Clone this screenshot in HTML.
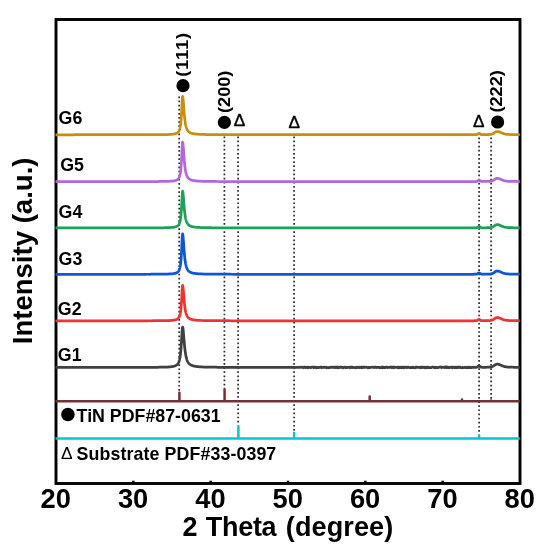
<!DOCTYPE html>
<html lang="en"><head><meta charset="utf-8"><title>XRD patterns</title>
<style>html,body{margin:0;padding:0;background:#fff}body{width:546px;height:550px;overflow:hidden}</style></head>
<body>
<svg width="546" height="550" viewBox="0 0 546 550" style="display:block">
<rect x="0" y="0" width="546" height="550" fill="#ffffff"/>
<g stroke="#2a2a2a" stroke-width="1.7" stroke-dasharray="1.7 2.42" fill="none">
<line x1="179.2" y1="96.5" x2="179.2" y2="392"/>
<line x1="224.4" y1="136.5" x2="224.4" y2="389"/>
<line x1="238.1" y1="136.5" x2="238.1" y2="425.5"/>
<line x1="294.1" y1="136.5" x2="294.1" y2="432"/>
<line x1="479.1" y1="137.5" x2="479.1" y2="434.5"/>
<line x1="491.1" y1="137.5" x2="491.1" y2="400"/>
</g>
<rect x="56" y="19.5" width="464" height="464" fill="none" stroke="#000" stroke-width="2.9"/>
<line x1="133.33" y1="480.7" x2="133.33" y2="483" stroke="#000" stroke-width="2.4"/>
<line x1="210.67" y1="480.7" x2="210.67" y2="483" stroke="#000" stroke-width="2.4"/>
<line x1="288.00" y1="480.7" x2="288.00" y2="483" stroke="#000" stroke-width="2.4"/>
<line x1="365.33" y1="480.7" x2="365.33" y2="483" stroke="#000" stroke-width="2.4"/>
<line x1="442.67" y1="480.7" x2="442.67" y2="483" stroke="#000" stroke-width="2.4"/>
<path d="M55.5,401.3 L179.4,401.3 L179.4,392.8 L179.4,401.3 L224.6,401.3 L224.6,389.8 L224.6,401.3 L369.7,401.3 L369.7,396.5 L369.7,401.3 L462,401.3 L462,399.5 L462,401.3 L491.1,401.3 L491.1,400.40000000000003 L491.1,401.3 L519.8,401.3" fill="none" stroke="#733035" stroke-width="2.5" stroke-linejoin="round" stroke-linecap="butt"/>
<path d="M55.5,438.6 L238.4,438.6 L238.4,426.6 L238.4,438.6 L294.1,438.6 L294.1,433.1 L294.1,438.6 L479.1,438.6 L479.1,435.6 L479.1,438.6 L519.8,438.6" fill="none" stroke="#05C6CC" stroke-width="2.5" stroke-linejoin="round" stroke-linecap="butt"/>
<polyline points="55.5,367.39 57.5,367.39 59.5,367.39 61.5,367.39 63.5,367.39 65.5,367.39 67.5,367.39 69.5,367.39 71.5,367.39 73.5,367.39 75.5,367.39 77.5,367.39 79.5,367.39 81.5,367.39 83.5,367.39 85.5,367.39 87.5,367.39 89.5,367.39 91.5,367.39 93.5,367.39 95.5,367.39 97.5,367.39 99.5,367.39 101.5,367.39 103.5,367.39 105.5,367.38 107.5,367.38 109.5,367.38 111.5,367.38 113.5,367.38 115.5,367.38 117.5,367.38 119.5,367.38 121.5,367.38 123.5,367.37 125.5,367.37 127.5,367.37 129.5,367.37 131.5,367.37 133.5,367.36 135.5,367.36 137.5,367.36 139.5,367.35 141.5,367.35 143.5,367.34 145.5,367.33 147.5,367.33 149.5,367.32 151.5,367.31 153.5,367.29 155.5,367.28 157.5,367.26 159.5,367.23 161.5,367.20 163.5,367.15 165.5,367.09 167.5,367.01 169.5,366.88 170.0,366.84 170.2,366.82 170.4,366.80 170.6,366.78 170.8,366.76 171.0,366.74 171.2,366.71 171.4,366.69 171.6,366.66 171.8,366.64 172.0,366.61 172.2,366.58 172.4,366.55 172.6,366.51 172.8,366.48 173.0,366.44 173.2,366.40 173.4,366.36 173.6,366.31 173.8,366.26 174.0,366.21 174.2,366.15 174.4,366.09 174.6,366.03 174.8,365.96 175.0,365.89 175.2,365.81 175.4,365.72 175.6,365.63 175.8,365.53 176.0,365.42 176.2,365.30 176.4,365.17 176.6,365.03 176.8,364.87 177.0,364.70 177.2,364.51 177.4,364.30 177.6,364.07 177.8,363.81 178.0,363.53 178.2,363.20 178.4,362.84 178.6,362.43 178.8,361.97 179.0,361.44 179.2,360.83 179.4,360.14 179.6,359.34 179.8,358.41 180.0,357.34 180.2,356.08 180.4,354.61 180.6,352.89 180.8,350.88 181.0,348.55 181.2,345.86 181.4,342.83 181.6,339.50 181.8,336.02 182.0,332.66 182.2,329.78 182.4,327.80 182.6,327.10 182.8,327.46 183.0,328.51 183.2,330.14 183.4,332.21 183.6,334.55 183.8,337.02 184.0,339.50 184.2,341.90 184.4,344.17 184.6,346.27 184.8,348.19 185.0,349.92 185.2,351.49 185.4,352.89 185.6,354.15 185.8,355.27 186.0,356.27 186.2,357.17 186.4,357.97 186.6,358.69 186.8,359.34 187.0,359.92 187.2,360.45 187.4,360.93 187.6,361.36 187.8,361.75 188.0,362.11 188.2,362.43 188.4,362.73 188.6,363.00 188.8,363.25 189.0,363.48 189.2,363.69 189.4,363.89 189.6,364.07 189.8,364.24 190.0,364.40 190.2,364.54 190.4,364.68 190.6,364.80 190.8,364.92 191.0,365.03 191.2,365.13 191.4,365.23 191.6,365.32 191.8,365.40 192.0,365.48 192.2,365.56 192.4,365.63 192.6,365.70 192.8,365.76 193.0,365.82 193.2,365.88 193.4,365.93 193.6,365.98 193.8,366.03 194.0,366.08 194.2,366.12 194.4,366.16 194.6,366.20 194.8,366.24 195.0,366.28 195.2,366.31 195.4,366.34 195.6,366.37 195.8,366.40 196.0,366.43 196.2,366.46 196.4,366.49 196.6,366.51 196.8,366.54 197.0,366.56 197.2,366.58 197.4,366.60 197.6,366.62 197.8,366.64 198.0,366.66 198.2,366.68 198.4,366.70 198.6,366.72 198.8,366.73 199.0,366.75 199.2,366.76 199.4,366.78 199.6,366.79 199.8,366.81 200.0,366.82 202.0,366.93 204.0,367.02 206.0,367.08 208.0,367.13 210.0,367.16 212.0,367.19 214.0,367.22 216.0,367.24 218.0,367.26 220.0,367.27 222.0,367.29 224.0,367.30 226.0,367.31 228.0,367.31 230.0,367.32 232.0,367.33 234.0,367.33 236.0,367.34 238.0,367.34 240.0,367.35 242.0,367.35 244.0,367.35 246.0,367.36 248.0,367.36 250.0,367.36 252.0,367.36 254.0,367.36 256.0,367.37 258.0,367.37 260.0,367.37 262.0,367.37 264.0,367.37 266.0,367.37 268.0,367.37 270.0,367.38 272.0,367.38 274.0,367.38 276.0,367.38 278.0,367.38 280.0,367.38 282.0,367.38 284.0,367.38 286.0,367.38 288.0,367.38 290.0,367.38 292.0,367.38 294.0,367.38 296.0,367.39 298.0,367.39 300.0,367.39 300.6,367.09 301.2,367.25 301.8,367.43 302.0,367.25 302.4,367.42 303.0,367.16 303.6,367.70 304.0,367.38 304.2,367.09 304.8,367.05 305.4,367.61 306.0,367.59 306.6,367.06 307.2,367.51 307.8,367.74 308.0,367.22 308.4,367.46 309.0,367.20 309.6,367.41 310.0,367.39 310.2,367.45 310.8,367.56 311.4,367.07 312.0,367.25 312.6,367.16 313.2,367.07 313.8,367.59 314.0,367.05 314.4,367.10 315.0,367.38 315.6,367.33 316.0,367.70 316.2,367.18 316.8,367.65 317.4,367.36 318.0,367.69 318.6,367.73 319.2,367.30 319.8,367.40 320.0,367.25 320.4,367.16 321.0,367.00 321.6,367.72 322.0,367.28 322.2,367.33 322.8,367.27 323.4,367.36 324.0,367.34 324.6,367.10 325.2,367.43 325.8,367.36 326.0,367.24 326.4,367.72 327.0,367.44 327.6,367.71 328.0,367.68 328.2,367.79 328.8,367.62 329.4,367.62 330.0,367.38 330.6,367.33 331.2,367.13 331.8,367.40 332.0,367.08 332.4,367.47 333.0,367.20 333.6,367.35 334.0,367.29 334.2,367.57 334.8,367.04 335.4,367.18 336.0,367.67 336.6,367.36 337.2,366.99 337.8,367.75 338.0,367.55 338.4,367.20 339.0,367.76 339.6,367.19 340.0,367.33 340.2,367.21 340.8,367.35 341.4,367.04 342.0,367.51 342.6,367.33 343.2,367.75 343.8,367.35 344.0,367.46 344.4,367.01 345.0,367.04 345.6,367.68 346.0,367.76 346.2,367.70 346.8,367.64 347.4,367.21 348.0,367.36 348.6,367.36 349.2,367.42 349.8,367.79 350.0,367.48 350.4,366.99 351.0,367.14 351.6,367.33 352.0,367.63 352.2,367.06 352.8,367.45 353.4,367.30 354.0,367.63 354.6,367.53 355.2,367.52 355.8,367.48 356.0,367.77 356.4,367.26 357.0,367.66 357.6,367.31 358.0,367.30 358.2,367.23 358.8,367.56 359.4,367.56 360.0,367.19 360.6,367.48 361.2,367.67 361.8,367.07 362.0,367.78 362.4,367.08 363.0,367.56 363.6,367.49 364.0,367.01 364.2,367.44 364.8,367.22 365.4,367.46 366.0,367.06 366.6,367.22 367.2,367.41 367.8,367.73 368.0,367.50 368.4,367.40 369.0,367.57 369.6,367.36 370.0,367.62 370.2,367.40 370.8,367.37 371.4,367.25 372.0,367.20 372.6,367.21 373.2,367.45 373.8,367.43 374.0,367.09 374.4,367.50 375.0,367.20 375.6,367.00 376.0,367.05 376.2,367.35 376.8,367.55 377.4,367.29 378.0,367.25 378.6,367.37 379.2,367.52 379.8,367.43 380.0,367.73 380.4,367.56 381.0,367.68 381.6,367.26 382.0,367.03 382.2,367.67 382.8,367.77 383.4,367.20 384.0,367.51 384.6,367.39 385.2,367.74 385.8,367.65 386.0,367.24 386.4,367.31 387.0,367.11 387.6,367.02 388.0,367.50 388.2,367.30 388.8,367.43 389.4,367.39 390.0,367.48 390.6,367.01 391.2,367.29 391.8,367.68 392.0,367.23 392.4,367.02 393.0,367.08 393.6,367.35 394.0,367.78 394.2,367.15 394.8,367.05 395.4,367.21 396.0,367.45 396.6,367.49 397.2,367.20 397.8,367.71 398.0,367.16 398.4,367.39 399.0,367.74 399.6,367.13 400.0,367.48 400.2,367.71 400.8,367.65 401.4,367.10 402.0,367.65 402.6,367.16 403.2,367.15 403.8,367.72 404.0,367.44 404.4,367.16 405.0,367.40 405.6,367.10 406.0,367.49 406.2,367.29 406.8,367.62 407.4,367.12 408.0,367.12 408.6,367.34 409.2,367.53 409.8,367.51 410.0,367.32 410.4,367.69 411.0,367.38 411.6,367.56 412.0,367.52 412.2,367.53 412.8,367.12 413.4,367.65 414.0,367.60 414.6,367.66 415.2,367.78 415.8,367.45 416.0,367.12 416.4,367.07 417.0,367.40 417.6,367.45 418.0,367.10 418.2,367.37 418.8,367.35 419.4,367.27 420.0,367.73 420.6,367.12 421.2,367.71 421.8,367.36 422.0,367.05 422.4,367.35 423.0,367.52 423.6,367.21 424.0,367.07 424.2,367.30 424.8,367.75 425.4,367.09 426.0,367.78 426.6,367.25 427.2,367.07 427.8,367.66 428.0,367.37 428.4,367.23 429.0,367.65 429.6,367.59 430.0,367.74 430.2,367.66 430.8,367.69 431.4,367.56 432.0,367.19 432.6,367.23 433.2,367.18 433.8,367.26 434.0,367.15 434.4,367.67 435.0,367.34 435.6,367.77 436.0,367.39 436.2,367.11 436.8,367.41 437.4,367.55 438.0,367.57 438.6,367.47 439.2,367.06 439.8,367.01 440.0,367.19 440.4,367.00 441.0,367.18 441.6,367.56 442.0,367.44 442.2,367.21 442.8,367.22 443.4,367.24 444.0,367.39 444.6,367.67 445.2,367.02 445.8,367.61 446.0,367.00 446.4,367.68 447.0,367.00 447.6,367.48 448.0,367.13 448.2,367.78 448.8,367.43 449.4,367.58 450.0,367.23 450.6,367.25 451.2,367.41 451.8,367.22 452.0,367.00 452.4,367.71 453.0,367.33 453.6,367.24 454.0,367.27 454.2,367.57 454.8,367.08 455.4,367.58 456.0,367.10 456.6,367.40 457.2,367.66 457.8,367.12 458.0,367.71 458.4,367.14 459.0,367.29 459.6,367.07 460.0,367.13 460.2,367.45 460.8,367.66 461.4,367.56 462.0,367.77 462.6,367.25 463.2,367.70 463.8,367.63 464.0,367.57 464.4,367.44 465.0,367.22 465.6,367.41 466.0,367.36 466.2,367.69 466.8,367.49 467.4,367.60 468.0,367.17 468.6,367.75 469.2,367.27 469.8,367.20 470.0,367.35 470.4,367.72 470.8,367.55 471.0,367.56 471.2,367.54 471.6,367.54 472.0,367.35 472.4,367.35 472.8,367.35 473.2,367.35 473.6,367.35 474.0,367.34 474.4,367.34 474.8,367.34 475.2,367.34 475.6,367.33 476.0,367.31 476.4,367.27 476.8,367.18 477.2,367.02 477.6,366.78 478.0,366.49 478.4,366.22 478.8,366.04 479.2,366.04 479.6,366.21 480.0,366.48 480.4,366.77 480.8,367.00 481.2,367.15 481.6,367.24 482.0,367.27 482.4,367.29 482.8,367.29 483.2,367.29 483.6,367.28 484.0,367.28 484.4,367.27 484.8,367.27 485.2,367.26 485.6,367.26 486.0,367.25 486.4,367.25 486.8,367.24 487.2,367.23 487.6,367.22 488.0,367.21 488.4,367.20 488.8,367.19 489.2,367.17 489.6,367.14 490.0,367.11 490.4,367.07 490.8,367.01 491.2,366.93 491.6,366.84 492.0,366.71 492.4,366.56 492.8,366.38 493.2,366.16 493.6,365.92 494.0,365.65 494.4,365.38 494.8,365.10 495.2,364.83 495.6,364.59 496.0,364.39 496.4,364.24 496.8,364.16 497.2,364.15 497.6,364.16 498.0,364.21 498.4,364.29 498.8,364.39 499.2,364.52 499.6,364.66 500.0,364.82 500.4,364.99 500.8,365.16 501.2,365.34 501.6,365.52 502.0,365.70 502.4,365.86 502.8,366.02 503.2,366.17 503.6,366.30 504.0,366.43 504.4,366.54 504.8,366.63 505.2,366.72 505.6,366.80 506.0,366.86 506.4,366.92 506.8,366.96 507.2,367.00 507.6,367.04 508.0,367.07 508.4,367.09 508.8,367.11 509.2,367.13 509.6,367.15 510.0,367.16 510.4,367.18 510.8,367.19 511.2,367.20 511.6,367.21 512.0,367.22 512.4,367.22 512.8,367.23 513.2,367.24 513.6,367.25 514.0,367.25 514.4,367.26 514.8,367.26 515.2,367.27 515.6,367.27 516.0,367.28 516.4,367.28 516.8,367.29 517.2,367.29 517.6,367.29 518.0,367.30 518.4,367.30 518.8,367.31 519.2,367.31 519.6,367.31 519.8,367.31" fill="none" stroke="#404040" stroke-width="2.75" stroke-linejoin="round" stroke-linecap="butt"/>
<polyline points="55.5,320.80 57.5,320.80 59.5,320.80 61.5,320.80 63.5,320.80 65.5,320.80 67.5,320.80 69.5,320.80 71.5,320.80 73.5,320.80 75.5,320.80 77.5,320.80 79.5,320.79 81.5,320.79 83.5,320.79 85.5,320.79 87.5,320.79 89.5,320.79 91.5,320.79 93.5,320.79 95.5,320.79 97.5,320.79 99.5,320.79 101.5,320.79 103.5,320.79 105.5,320.79 107.5,320.79 109.5,320.79 111.5,320.79 113.5,320.79 115.5,320.79 117.5,320.79 119.5,320.79 121.5,320.79 123.5,320.79 125.5,320.78 127.5,320.78 129.5,320.78 131.5,320.78 133.5,320.78 135.5,320.78 137.5,320.77 139.5,320.77 141.5,320.77 143.5,320.77 145.5,320.76 147.5,320.76 149.5,320.75 151.5,320.75 153.5,320.74 155.5,320.73 157.5,320.72 159.5,320.70 161.5,320.69 163.5,320.66 165.5,320.63 167.5,320.58 169.5,320.51 170.0,320.48 170.2,320.47 170.4,320.46 170.6,320.45 170.8,320.44 171.0,320.42 171.2,320.41 171.4,320.40 171.6,320.38 171.8,320.37 172.0,320.35 172.2,320.33 172.4,320.32 172.6,320.30 172.8,320.28 173.0,320.26 173.2,320.23 173.4,320.21 173.6,320.18 173.8,320.15 174.0,320.12 174.2,320.09 174.4,320.06 174.6,320.02 174.8,319.98 175.0,319.94 175.2,319.89 175.4,319.84 175.6,319.79 175.8,319.73 176.0,319.67 176.2,319.60 176.4,319.52 176.6,319.44 176.8,319.35 177.0,319.25 177.2,319.13 177.4,319.01 177.6,318.87 177.8,318.72 178.0,318.54 178.2,318.35 178.4,318.13 178.6,317.88 178.8,317.59 179.0,317.26 179.2,316.88 179.4,316.44 179.6,315.92 179.8,315.31 180.0,314.58 180.2,313.72 180.4,312.68 180.6,311.43 180.8,309.91 181.0,308.06 181.2,305.81 181.4,303.10 181.6,299.91 181.8,296.29 182.0,292.48 182.2,288.94 182.4,286.36 182.6,285.40 182.8,285.83 183.0,287.07 183.2,288.94 183.4,291.24 183.6,293.75 183.8,296.29 184.0,298.74 184.2,301.02 184.4,303.10 184.6,304.96 184.8,306.60 185.0,308.06 185.2,309.33 185.4,310.45 185.6,311.43 185.8,312.29 186.0,313.05 186.2,313.72 186.4,314.31 186.6,314.84 186.8,315.31 187.0,315.72 187.2,316.10 187.4,316.44 187.6,316.74 187.8,317.01 188.0,317.26 188.2,317.48 188.4,317.69 188.6,317.88 188.8,318.05 189.0,318.20 189.2,318.35 189.4,318.48 189.6,318.60 189.8,318.72 190.0,318.82 190.2,318.92 190.4,319.01 190.6,319.09 190.8,319.17 191.0,319.25 191.2,319.31 191.4,319.38 191.6,319.44 191.8,319.49 192.0,319.55 192.2,319.60 192.4,319.64 192.6,319.69 192.8,319.73 193.0,319.77 193.2,319.81 193.4,319.84 193.6,319.88 193.8,319.91 194.0,319.94 194.2,319.97 194.4,319.99 194.6,320.02 194.8,320.05 195.0,320.07 195.2,320.09 195.4,320.11 195.6,320.13 195.8,320.15 196.0,320.17 196.2,320.19 196.4,320.21 196.6,320.22 196.8,320.24 197.0,320.25 197.2,320.27 197.4,320.28 197.6,320.30 197.8,320.31 198.0,320.32 198.2,320.33 198.4,320.35 198.6,320.36 198.8,320.37 199.0,320.38 199.2,320.39 199.4,320.40 199.6,320.41 199.8,320.42 200.0,320.42 202.0,320.50 204.0,320.55 206.0,320.59 208.0,320.62 210.0,320.65 212.0,320.67 214.0,320.68 216.0,320.70 218.0,320.71 220.0,320.72 222.0,320.73 224.0,320.73 226.0,320.74 228.0,320.74 230.0,320.75 232.0,320.75 234.0,320.76 236.0,320.76 238.0,320.76 240.0,320.76 242.0,320.77 244.0,320.77 246.0,320.77 248.0,320.77 250.0,320.77 252.0,320.78 254.0,320.78 256.0,320.78 258.0,320.78 260.0,320.78 262.0,320.78 264.0,320.78 266.0,320.78 268.0,320.78 270.0,320.78 272.0,320.78 274.0,320.79 276.0,320.79 278.0,320.79 280.0,320.79 282.0,320.79 284.0,320.79 286.0,320.79 288.0,320.79 290.0,320.79 292.0,320.79 294.0,320.79 296.0,320.79 298.0,320.79 300.0,320.79 302.0,320.79 304.0,320.79 306.0,320.79 308.0,320.79 310.0,320.79 312.0,320.79 314.0,320.79 316.0,320.79 318.0,320.79 320.0,320.79 322.0,320.79 324.0,320.79 326.0,320.79 328.0,320.79 330.0,320.79 332.0,320.79 334.0,320.79 336.0,320.79 338.0,320.79 340.0,320.79 342.0,320.79 344.0,320.79 346.0,320.79 348.0,320.79 350.0,320.79 352.0,320.79 354.0,320.79 356.0,320.79 358.0,320.79 360.0,320.79 362.0,320.79 364.0,320.79 366.0,320.79 368.0,320.79 370.0,320.79 372.0,320.79 374.0,320.79 376.0,320.79 378.0,320.79 380.0,320.79 382.0,320.79 384.0,320.79 386.0,320.79 388.0,320.79 390.0,320.79 392.0,320.79 394.0,320.79 396.0,320.79 398.0,320.79 400.0,320.79 402.0,320.79 404.0,320.79 406.0,320.79 408.0,320.79 410.0,320.79 412.0,320.79 414.0,320.79 416.0,320.79 418.0,320.79 420.0,320.79 422.0,320.79 424.0,320.79 426.0,320.79 428.0,320.79 430.0,320.79 432.0,320.79 434.0,320.79 436.0,320.79 438.0,320.79 440.0,320.79 442.0,320.79 444.0,320.79 446.0,320.78 448.0,320.78 450.0,320.78 452.0,320.78 454.0,320.78 456.0,320.78 458.0,320.78 460.0,320.77 462.0,320.77 464.0,320.77 466.0,320.77 468.0,320.76 470.0,320.76 470.4,320.76 470.8,320.76 471.2,320.75 471.6,320.75 472.0,320.75 472.4,320.75 472.8,320.75 473.2,320.75 473.6,320.75 474.0,320.75 474.4,320.74 474.8,320.74 475.2,320.74 475.6,320.73 476.0,320.71 476.4,320.67 476.8,320.58 477.2,320.42 477.6,320.19 478.0,319.89 478.4,319.62 478.8,319.45 479.2,319.44 479.6,319.61 480.0,319.88 480.4,320.17 480.8,320.40 481.2,320.55 481.6,320.64 482.0,320.67 482.4,320.69 482.8,320.69 483.2,320.69 483.6,320.68 484.0,320.68 484.4,320.67 484.8,320.67 485.2,320.66 485.6,320.66 486.0,320.65 486.4,320.65 486.8,320.64 487.2,320.63 487.6,320.62 488.0,320.61 488.4,320.60 488.8,320.59 489.2,320.57 489.6,320.54 490.0,320.51 490.4,320.47 490.8,320.41 491.2,320.33 491.6,320.24 492.0,320.11 492.4,319.96 492.8,319.78 493.2,319.56 493.6,319.32 494.0,319.05 494.4,318.78 494.8,318.50 495.2,318.23 495.6,317.99 496.0,317.79 496.4,317.64 496.8,317.56 497.2,317.55 497.6,317.57 498.0,317.61 498.4,317.69 498.8,317.79 499.2,317.92 499.6,318.06 500.0,318.22 500.4,318.39 500.8,318.57 501.2,318.74 501.6,318.92 502.0,319.10 502.4,319.26 502.8,319.42 503.2,319.57 503.6,319.70 504.0,319.83 504.4,319.94 504.8,320.03 505.2,320.12 505.6,320.20 506.0,320.26 506.4,320.32 506.8,320.36 507.2,320.40 507.6,320.44 508.0,320.47 508.4,320.49 508.8,320.52 509.2,320.53 509.6,320.55 510.0,320.56 510.4,320.58 510.8,320.59 511.2,320.60 511.6,320.61 512.0,320.62 512.4,320.63 512.8,320.63 513.2,320.64 513.6,320.65 514.0,320.65 514.4,320.66 514.8,320.66 515.2,320.67 515.6,320.67 516.0,320.68 516.4,320.68 516.8,320.69 517.2,320.69 517.6,320.70 518.0,320.70 518.4,320.70 518.8,320.71 519.2,320.71 519.6,320.71 519.8,320.71" fill="none" stroke="#F03232" stroke-width="2.75" stroke-linejoin="round" stroke-linecap="butt"/>
<polyline points="55.5,274.30 57.5,274.30 59.5,274.30 61.5,274.30 63.5,274.30 65.5,274.30 67.5,274.30 69.5,274.30 71.5,274.30 73.5,274.29 75.5,274.29 77.5,274.29 79.5,274.29 81.5,274.29 83.5,274.29 85.5,274.29 87.5,274.29 89.5,274.29 91.5,274.29 93.5,274.29 95.5,274.29 97.5,274.29 99.5,274.29 101.5,274.29 103.5,274.29 105.5,274.29 107.5,274.29 109.5,274.29 111.5,274.29 113.5,274.29 115.5,274.29 117.5,274.29 119.5,274.29 121.5,274.28 123.5,274.28 125.5,274.28 127.5,274.28 129.5,274.28 131.5,274.28 133.5,274.28 135.5,274.27 137.5,274.27 139.5,274.27 141.5,274.27 143.5,274.26 145.5,274.26 147.5,274.25 149.5,274.25 151.5,274.24 153.5,274.23 155.5,274.22 157.5,274.21 159.5,274.19 161.5,274.17 163.5,274.14 165.5,274.10 167.5,274.05 169.5,273.96 170.0,273.94 170.2,273.92 170.4,273.91 170.6,273.90 170.8,273.89 171.0,273.87 171.2,273.86 171.4,273.84 171.6,273.82 171.8,273.81 172.0,273.79 172.2,273.77 172.4,273.75 172.6,273.73 172.8,273.70 173.0,273.68 173.2,273.65 173.4,273.62 173.6,273.59 173.8,273.56 174.0,273.53 174.2,273.49 174.4,273.45 174.6,273.41 174.8,273.37 175.0,273.32 175.2,273.26 175.4,273.21 175.6,273.15 175.8,273.08 176.0,273.01 176.2,272.93 176.4,272.84 176.6,272.75 176.8,272.64 177.0,272.53 177.2,272.40 177.4,272.26 177.6,272.10 177.8,271.92 178.0,271.73 178.2,271.50 178.4,271.25 178.6,270.96 178.8,270.64 179.0,270.26 179.2,269.82 179.4,269.32 179.6,268.73 179.8,268.03 180.0,267.20 180.2,266.22 180.4,265.04 180.6,263.61 180.8,261.87 181.0,259.76 181.2,257.19 181.4,254.10 181.6,250.46 181.8,246.33 182.0,241.98 182.2,237.94 182.4,234.99 182.6,233.90 182.8,234.39 183.0,235.80 183.2,237.94 183.4,240.56 183.6,243.43 183.8,246.33 184.0,249.13 184.2,251.73 184.4,254.10 184.6,256.22 184.8,258.10 185.0,259.76 185.2,261.21 185.4,262.49 185.6,263.61 185.8,264.59 186.0,265.46 186.2,266.22 186.4,266.90 186.6,267.50 186.8,268.03 187.0,268.51 187.2,268.93 187.4,269.32 187.6,269.66 187.8,269.98 188.0,270.26 188.2,270.52 188.4,270.75 188.6,270.96 188.8,271.16 189.0,271.34 189.2,271.50 189.4,271.65 189.6,271.79 189.8,271.92 190.0,272.04 190.2,272.15 190.4,272.26 190.6,272.35 190.8,272.44 191.0,272.53 191.2,272.60 191.4,272.68 191.6,272.75 191.8,272.81 192.0,272.87 192.2,272.93 192.4,272.98 192.6,273.03 192.8,273.08 193.0,273.12 193.2,273.17 193.4,273.21 193.6,273.25 193.8,273.28 194.0,273.32 194.2,273.35 194.4,273.38 194.6,273.41 194.8,273.44 195.0,273.47 195.2,273.49 195.4,273.52 195.6,273.54 195.8,273.56 196.0,273.58 196.2,273.60 196.4,273.62 196.6,273.64 196.8,273.66 197.0,273.68 197.2,273.69 197.4,273.71 197.6,273.73 197.8,273.74 198.0,273.76 198.2,273.77 198.4,273.78 198.6,273.79 198.8,273.81 199.0,273.82 199.2,273.83 199.4,273.84 199.6,273.85 199.8,273.86 200.0,273.87 202.0,273.95 204.0,274.02 206.0,274.06 208.0,274.10 210.0,274.13 212.0,274.15 214.0,274.17 216.0,274.18 218.0,274.20 220.0,274.21 222.0,274.22 224.0,274.22 226.0,274.23 228.0,274.24 230.0,274.24 232.0,274.25 234.0,274.25 236.0,274.25 238.0,274.26 240.0,274.26 242.0,274.26 244.0,274.26 246.0,274.27 248.0,274.27 250.0,274.27 252.0,274.27 254.0,274.27 256.0,274.28 258.0,274.28 260.0,274.28 262.0,274.28 264.0,274.28 266.0,274.28 268.0,274.28 270.0,274.28 272.0,274.28 274.0,274.28 276.0,274.28 278.0,274.28 280.0,274.29 282.0,274.29 284.0,274.29 286.0,274.29 288.0,274.29 290.0,274.29 292.0,274.29 294.0,274.29 296.0,274.29 298.0,274.29 300.0,274.29 302.0,274.29 304.0,274.29 306.0,274.29 308.0,274.29 310.0,274.29 312.0,274.29 314.0,274.29 316.0,274.29 318.0,274.29 320.0,274.29 322.0,274.29 324.0,274.29 326.0,274.29 328.0,274.29 330.0,274.29 332.0,274.29 334.0,274.29 336.0,274.29 338.0,274.29 340.0,274.29 342.0,274.29 344.0,274.29 346.0,274.29 348.0,274.29 350.0,274.29 352.0,274.29 354.0,274.29 356.0,274.29 358.0,274.29 360.0,274.29 362.0,274.29 364.0,274.29 366.0,274.29 368.0,274.29 370.0,274.29 372.0,274.29 374.0,274.29 376.0,274.29 378.0,274.29 380.0,274.29 382.0,274.29 384.0,274.29 386.0,274.29 388.0,274.29 390.0,274.29 392.0,274.29 394.0,274.29 396.0,274.29 398.0,274.29 400.0,274.29 402.0,274.29 404.0,274.29 406.0,274.29 408.0,274.29 410.0,274.29 412.0,274.29 414.0,274.29 416.0,274.29 418.0,274.29 420.0,274.29 422.0,274.29 424.0,274.29 426.0,274.29 428.0,274.29 430.0,274.29 432.0,274.29 434.0,274.29 436.0,274.29 438.0,274.29 440.0,274.29 442.0,274.29 444.0,274.29 446.0,274.28 448.0,274.28 450.0,274.28 452.0,274.28 454.0,274.28 456.0,274.28 458.0,274.28 460.0,274.27 462.0,274.27 464.0,274.27 466.0,274.27 468.0,274.26 470.0,274.26 470.4,274.26 470.8,274.26 471.2,274.25 471.6,274.25 472.0,274.25 472.4,274.25 472.8,274.25 473.2,274.25 473.6,274.25 474.0,274.24 474.4,274.24 474.8,274.24 475.2,274.24 475.6,274.23 476.0,274.21 476.4,274.17 476.8,274.08 477.2,273.92 477.6,273.68 478.0,273.39 478.4,273.12 478.8,272.95 479.2,272.94 479.6,273.11 480.0,273.38 480.4,273.67 480.8,273.90 481.2,274.05 481.6,274.14 482.0,274.17 482.4,274.19 482.8,274.19 483.2,274.19 483.6,274.18 484.0,274.18 484.4,274.17 484.8,274.17 485.2,274.16 485.6,274.16 486.0,274.15 486.4,274.15 486.8,274.14 487.2,274.13 487.6,274.12 488.0,274.11 488.4,274.10 488.8,274.09 489.2,274.07 489.6,274.04 490.0,274.01 490.4,273.97 490.8,273.91 491.2,273.83 491.6,273.74 492.0,273.61 492.4,273.46 492.8,273.28 493.2,273.06 493.6,272.82 494.0,272.55 494.4,272.28 494.8,272.00 495.2,271.73 495.6,271.49 496.0,271.29 496.4,271.14 496.8,271.06 497.2,271.05 497.6,271.07 498.0,271.11 498.4,271.19 498.8,271.29 499.2,271.42 499.6,271.56 500.0,271.72 500.4,271.89 500.8,272.07 501.2,272.24 501.6,272.42 502.0,272.60 502.4,272.76 502.8,272.92 503.2,273.07 503.6,273.20 504.0,273.33 504.4,273.44 504.8,273.53 505.2,273.62 505.6,273.70 506.0,273.76 506.4,273.82 506.8,273.86 507.2,273.90 507.6,273.94 508.0,273.97 508.4,273.99 508.8,274.02 509.2,274.03 509.6,274.05 510.0,274.06 510.4,274.08 510.8,274.09 511.2,274.10 511.6,274.11 512.0,274.12 512.4,274.13 512.8,274.13 513.2,274.14 513.6,274.15 514.0,274.15 514.4,274.16 514.8,274.16 515.2,274.17 515.6,274.17 516.0,274.18 516.4,274.18 516.8,274.19 517.2,274.19 517.6,274.20 518.0,274.20 518.4,274.20 518.8,274.21 519.2,274.21 519.6,274.21 519.8,274.21" fill="none" stroke="#0F55DA" stroke-width="2.75" stroke-linejoin="round" stroke-linecap="butt"/>
<polyline points="55.5,227.90 57.5,227.90 59.5,227.90 61.5,227.90 63.5,227.90 65.5,227.90 67.5,227.90 69.5,227.90 71.5,227.90 73.5,227.90 75.5,227.90 77.5,227.89 79.5,227.89 81.5,227.89 83.5,227.89 85.5,227.89 87.5,227.89 89.5,227.89 91.5,227.89 93.5,227.89 95.5,227.89 97.5,227.89 99.5,227.89 101.5,227.89 103.5,227.89 105.5,227.89 107.5,227.89 109.5,227.89 111.5,227.89 113.5,227.89 115.5,227.89 117.5,227.89 119.5,227.89 121.5,227.89 123.5,227.88 125.5,227.88 127.5,227.88 129.5,227.88 131.5,227.88 133.5,227.88 135.5,227.88 137.5,227.87 139.5,227.87 141.5,227.87 143.5,227.87 145.5,227.86 147.5,227.86 149.5,227.85 151.5,227.85 153.5,227.84 155.5,227.83 157.5,227.82 159.5,227.80 161.5,227.78 163.5,227.76 165.5,227.72 167.5,227.67 169.5,227.59 170.0,227.57 170.2,227.56 170.4,227.55 170.6,227.54 170.8,227.52 171.0,227.51 171.2,227.50 171.4,227.48 171.6,227.47 171.8,227.45 172.0,227.44 172.2,227.42 172.4,227.40 172.6,227.38 172.8,227.36 173.0,227.34 173.2,227.31 173.4,227.29 173.6,227.26 173.8,227.23 174.0,227.20 174.2,227.17 174.4,227.13 174.6,227.09 174.8,227.05 175.0,227.01 175.2,226.96 175.4,226.91 175.6,226.85 175.8,226.79 176.0,226.73 176.2,226.65 176.4,226.57 176.6,226.49 176.8,226.39 177.0,226.29 177.2,226.17 177.4,226.04 177.6,225.90 177.8,225.74 178.0,225.56 178.2,225.36 178.4,225.13 178.6,224.87 178.8,224.57 179.0,224.23 179.2,223.83 179.4,223.37 179.6,222.84 179.8,222.20 180.0,221.45 180.2,220.56 180.4,219.48 180.6,218.18 180.8,216.61 181.0,214.69 181.2,212.36 181.4,209.55 181.6,206.24 181.8,202.49 182.0,198.54 182.2,194.87 182.4,192.19 182.6,191.20 182.8,191.65 183.0,192.93 183.2,194.87 183.4,197.25 183.6,199.86 183.8,202.49 184.0,205.03 184.2,207.40 184.4,209.55 184.6,211.48 184.8,213.18 185.0,214.69 185.2,216.01 185.4,217.17 185.6,218.18 185.8,219.08 186.0,219.87 186.2,220.56 186.4,221.17 186.6,221.72 186.8,222.20 187.0,222.64 187.2,223.03 187.4,223.37 187.6,223.69 187.8,223.97 188.0,224.23 188.2,224.46 188.4,224.68 188.6,224.87 188.8,225.05 189.0,225.21 189.2,225.36 189.4,225.50 189.6,225.62 189.8,225.74 190.0,225.85 190.2,225.95 190.4,226.04 190.6,226.13 190.8,226.21 191.0,226.29 191.2,226.36 191.4,226.43 191.6,226.49 191.8,226.55 192.0,226.60 192.2,226.65 192.4,226.70 192.6,226.75 192.8,226.79 193.0,226.83 193.2,226.87 193.4,226.91 193.6,226.94 193.8,226.98 194.0,227.01 194.2,227.04 194.4,227.07 194.6,227.09 194.8,227.12 195.0,227.14 195.2,227.17 195.4,227.19 195.6,227.21 195.8,227.23 196.0,227.25 196.2,227.27 196.4,227.29 196.6,227.30 196.8,227.32 197.0,227.33 197.2,227.35 197.4,227.36 197.6,227.38 197.8,227.39 198.0,227.40 198.2,227.42 198.4,227.43 198.6,227.44 198.8,227.45 199.0,227.46 199.2,227.47 199.4,227.48 199.6,227.49 199.8,227.50 200.0,227.51 202.0,227.59 204.0,227.64 206.0,227.68 208.0,227.72 210.0,227.74 212.0,227.76 214.0,227.78 216.0,227.79 218.0,227.80 220.0,227.81 222.0,227.82 224.0,227.83 226.0,227.84 228.0,227.84 230.0,227.85 232.0,227.85 234.0,227.85 236.0,227.86 238.0,227.86 240.0,227.86 242.0,227.87 244.0,227.87 246.0,227.87 248.0,227.87 250.0,227.87 252.0,227.87 254.0,227.88 256.0,227.88 258.0,227.88 260.0,227.88 262.0,227.88 264.0,227.88 266.0,227.88 268.0,227.88 270.0,227.88 272.0,227.88 274.0,227.88 276.0,227.89 278.0,227.89 280.0,227.89 282.0,227.89 284.0,227.89 286.0,227.89 288.0,227.89 290.0,227.89 292.0,227.89 294.0,227.89 296.0,227.89 298.0,227.89 300.0,227.89 302.0,227.89 304.0,227.89 306.0,227.89 308.0,227.89 310.0,227.89 312.0,227.89 314.0,227.89 316.0,227.89 318.0,227.89 320.0,227.89 322.0,227.89 324.0,227.89 326.0,227.89 328.0,227.89 330.0,227.89 332.0,227.89 334.0,227.89 336.0,227.89 338.0,227.89 340.0,227.89 342.0,227.89 344.0,227.89 346.0,227.89 348.0,227.89 350.0,227.89 352.0,227.89 354.0,227.89 356.0,227.89 358.0,227.89 360.0,227.89 362.0,227.89 364.0,227.89 366.0,227.89 368.0,227.89 370.0,227.89 372.0,227.89 374.0,227.89 376.0,227.89 378.0,227.89 380.0,227.89 382.0,227.89 384.0,227.89 386.0,227.89 388.0,227.89 390.0,227.89 392.0,227.89 394.0,227.89 396.0,227.89 398.0,227.89 400.0,227.89 402.0,227.89 404.0,227.89 406.0,227.89 408.0,227.89 410.0,227.89 412.0,227.89 414.0,227.89 416.0,227.89 418.0,227.89 420.0,227.89 422.0,227.89 424.0,227.89 426.0,227.89 428.0,227.89 430.0,227.89 432.0,227.89 434.0,227.89 436.0,227.89 438.0,227.89 440.0,227.89 442.0,227.89 444.0,227.89 446.0,227.88 448.0,227.88 450.0,227.88 452.0,227.88 454.0,227.88 456.0,227.88 458.0,227.88 460.0,227.87 462.0,227.87 464.0,227.87 466.0,227.87 468.0,227.86 470.0,227.86 470.4,227.86 470.8,227.86 471.2,227.85 471.6,227.85 472.0,227.85 472.4,227.85 472.8,227.85 473.2,227.85 473.6,227.85 474.0,227.85 474.4,227.84 474.8,227.84 475.2,227.84 475.6,227.83 476.0,227.81 476.4,227.77 476.8,227.68 477.2,227.52 477.6,227.29 478.0,226.99 478.4,226.72 478.8,226.55 479.2,226.54 479.6,226.71 480.0,226.98 480.4,227.27 480.8,227.50 481.2,227.65 481.6,227.74 482.0,227.77 482.4,227.79 482.8,227.79 483.2,227.79 483.6,227.78 484.0,227.78 484.4,227.77 484.8,227.77 485.2,227.76 485.6,227.76 486.0,227.75 486.4,227.75 486.8,227.74 487.2,227.73 487.6,227.72 488.0,227.71 488.4,227.70 488.8,227.69 489.2,227.67 489.6,227.64 490.0,227.61 490.4,227.57 490.8,227.51 491.2,227.43 491.6,227.34 492.0,227.21 492.4,227.06 492.8,226.88 493.2,226.66 493.6,226.42 494.0,226.15 494.4,225.88 494.8,225.60 495.2,225.33 495.6,225.09 496.0,224.89 496.4,224.74 496.8,224.66 497.2,224.65 497.6,224.67 498.0,224.71 498.4,224.79 498.8,224.89 499.2,225.02 499.6,225.16 500.0,225.32 500.4,225.49 500.8,225.67 501.2,225.84 501.6,226.02 502.0,226.20 502.4,226.36 502.8,226.52 503.2,226.67 503.6,226.80 504.0,226.93 504.4,227.04 504.8,227.13 505.2,227.22 505.6,227.30 506.0,227.36 506.4,227.42 506.8,227.46 507.2,227.50 507.6,227.54 508.0,227.57 508.4,227.59 508.8,227.62 509.2,227.63 509.6,227.65 510.0,227.66 510.4,227.68 510.8,227.69 511.2,227.70 511.6,227.71 512.0,227.72 512.4,227.73 512.8,227.73 513.2,227.74 513.6,227.75 514.0,227.75 514.4,227.76 514.8,227.76 515.2,227.77 515.6,227.77 516.0,227.78 516.4,227.78 516.8,227.79 517.2,227.79 517.6,227.80 518.0,227.80 518.4,227.80 518.8,227.81 519.2,227.81 519.6,227.81 519.8,227.81" fill="none" stroke="#1CA156" stroke-width="2.75" stroke-linejoin="round" stroke-linecap="butt"/>
<polyline points="55.5,181.60 57.5,181.60 59.5,181.60 61.5,181.60 63.5,181.60 65.5,181.60 67.5,181.60 69.5,181.60 71.5,181.60 73.5,181.60 75.5,181.59 77.5,181.59 79.5,181.59 81.5,181.59 83.5,181.59 85.5,181.59 87.5,181.59 89.5,181.59 91.5,181.59 93.5,181.59 95.5,181.59 97.5,181.59 99.5,181.59 101.5,181.59 103.5,181.59 105.5,181.59 107.5,181.59 109.5,181.59 111.5,181.59 113.5,181.59 115.5,181.59 117.5,181.59 119.5,181.59 121.5,181.58 123.5,181.58 125.5,181.58 127.5,181.58 129.5,181.58 131.5,181.58 133.5,181.58 135.5,181.57 137.5,181.57 139.5,181.57 141.5,181.57 143.5,181.56 145.5,181.56 147.5,181.55 149.5,181.55 151.5,181.54 153.5,181.53 155.5,181.52 157.5,181.51 159.5,181.49 161.5,181.47 163.5,181.44 165.5,181.41 167.5,181.35 169.5,181.27 170.0,181.25 170.2,181.23 170.4,181.22 170.6,181.21 170.8,181.20 171.0,181.18 171.2,181.17 171.4,181.15 171.6,181.14 171.8,181.12 172.0,181.10 172.2,181.08 172.4,181.06 172.6,181.04 172.8,181.02 173.0,180.99 173.2,180.97 173.4,180.94 173.6,180.91 173.8,180.88 174.0,180.85 174.2,180.81 174.4,180.77 174.6,180.73 174.8,180.69 175.0,180.64 175.2,180.59 175.4,180.53 175.6,180.47 175.8,180.41 176.0,180.34 176.2,180.26 176.4,180.18 176.6,180.08 176.8,179.98 177.0,179.87 177.2,179.75 177.4,179.61 177.6,179.45 177.8,179.28 178.0,179.09 178.2,178.87 178.4,178.63 178.6,178.35 178.8,178.03 179.0,177.66 179.2,177.24 179.4,176.74 179.6,176.17 179.8,175.49 180.0,174.68 180.2,173.72 180.4,172.57 180.6,171.17 180.8,169.48 181.0,167.42 181.2,164.91 181.4,161.90 181.6,158.35 181.8,154.32 182.0,150.08 182.2,146.14 182.4,143.26 182.6,142.20 182.8,142.68 183.0,144.05 183.2,146.14 183.4,148.70 183.6,151.49 183.8,154.32 184.0,157.05 184.2,159.59 184.4,161.90 184.6,163.97 184.8,165.80 185.0,167.42 185.2,168.83 185.4,170.08 185.6,171.17 185.8,172.13 186.0,172.97 186.2,173.72 186.4,174.38 186.6,174.96 186.8,175.49 187.0,175.95 187.2,176.37 187.4,176.74 187.6,177.08 187.8,177.38 188.0,177.66 188.2,177.91 188.4,178.14 188.6,178.35 188.8,178.54 189.0,178.71 189.2,178.87 189.4,179.02 189.6,179.16 189.8,179.28 190.0,179.40 190.2,179.51 190.4,179.61 190.6,179.70 190.8,179.79 191.0,179.87 191.2,179.95 191.4,180.02 191.6,180.08 191.8,180.15 192.0,180.21 192.2,180.26 192.4,180.31 192.6,180.36 192.8,180.41 193.0,180.45 193.2,180.50 193.4,180.53 193.6,180.57 193.8,180.61 194.0,180.64 194.2,180.67 194.4,180.70 194.6,180.73 194.8,180.76 195.0,180.79 195.2,180.81 195.4,180.84 195.6,180.86 195.8,180.88 196.0,180.90 196.2,180.92 196.4,180.94 196.6,180.96 196.8,180.98 197.0,180.99 197.2,181.01 197.4,181.03 197.6,181.04 197.8,181.05 198.0,181.07 198.2,181.08 198.4,181.09 198.6,181.11 198.8,181.12 199.0,181.13 199.2,181.14 199.4,181.15 199.6,181.16 199.8,181.17 200.0,181.18 202.0,181.26 204.0,181.32 206.0,181.37 208.0,181.40 210.0,181.43 212.0,181.45 214.0,181.47 216.0,181.49 218.0,181.50 220.0,181.51 222.0,181.52 224.0,181.53 226.0,181.53 228.0,181.54 230.0,181.54 232.0,181.55 234.0,181.55 236.0,181.55 238.0,181.56 240.0,181.56 242.0,181.56 244.0,181.57 246.0,181.57 248.0,181.57 250.0,181.57 252.0,181.57 254.0,181.57 256.0,181.58 258.0,181.58 260.0,181.58 262.0,181.58 264.0,181.58 266.0,181.58 268.0,181.58 270.0,181.58 272.0,181.58 274.0,181.58 276.0,181.58 278.0,181.59 280.0,181.59 282.0,181.59 284.0,181.59 286.0,181.59 288.0,181.59 290.0,181.59 292.0,181.59 294.0,181.59 296.0,181.59 298.0,181.59 300.0,181.59 302.0,181.59 304.0,181.59 306.0,181.59 308.0,181.59 310.0,181.59 312.0,181.59 314.0,181.59 316.0,181.59 318.0,181.59 320.0,181.59 322.0,181.59 324.0,181.59 326.0,181.59 328.0,181.59 330.0,181.59 332.0,181.59 334.0,181.59 336.0,181.59 338.0,181.59 340.0,181.59 342.0,181.59 344.0,181.59 346.0,181.59 348.0,181.59 350.0,181.59 352.0,181.59 354.0,181.59 356.0,181.59 358.0,181.59 360.0,181.59 362.0,181.59 364.0,181.59 366.0,181.59 368.0,181.59 370.0,181.59 372.0,181.59 374.0,181.59 376.0,181.59 378.0,181.59 380.0,181.59 382.0,181.59 384.0,181.59 386.0,181.59 388.0,181.59 390.0,181.59 392.0,181.59 394.0,181.59 396.0,181.59 398.0,181.59 400.0,181.59 402.0,181.59 404.0,181.59 406.0,181.59 408.0,181.59 410.0,181.59 412.0,181.59 414.0,181.59 416.0,181.59 418.0,181.59 420.0,181.59 422.0,181.59 424.0,181.59 426.0,181.59 428.0,181.59 430.0,181.59 432.0,181.59 434.0,181.59 436.0,181.59 438.0,181.59 440.0,181.59 442.0,181.59 444.0,181.59 446.0,181.58 448.0,181.58 450.0,181.58 452.0,181.58 454.0,181.58 456.0,181.58 458.0,181.58 460.0,181.57 462.0,181.57 464.0,181.57 466.0,181.57 468.0,181.56 470.0,181.56 470.4,181.56 470.8,181.56 471.2,181.55 471.6,181.55 472.0,181.55 472.4,181.55 472.8,181.55 473.2,181.55 473.6,181.55 474.0,181.54 474.4,181.54 474.8,181.54 475.2,181.54 475.6,181.53 476.0,181.51 476.4,181.47 476.8,181.38 477.2,181.22 477.6,180.99 478.0,180.69 478.4,180.42 478.8,180.25 479.2,180.24 479.6,180.41 480.0,180.68 480.4,180.97 480.8,181.20 481.2,181.35 481.6,181.44 482.0,181.47 482.4,181.49 482.8,181.49 483.2,181.49 483.6,181.48 484.0,181.48 484.4,181.47 484.8,181.47 485.2,181.46 485.6,181.46 486.0,181.45 486.4,181.45 486.8,181.44 487.2,181.43 487.6,181.42 488.0,181.41 488.4,181.40 488.8,181.39 489.2,181.37 489.6,181.34 490.0,181.31 490.4,181.27 490.8,181.21 491.2,181.13 491.6,181.04 492.0,180.91 492.4,180.76 492.8,180.58 493.2,180.36 493.6,180.12 494.0,179.85 494.4,179.58 494.8,179.30 495.2,179.03 495.6,178.79 496.0,178.59 496.4,178.44 496.8,178.36 497.2,178.35 497.6,178.37 498.0,178.41 498.4,178.49 498.8,178.59 499.2,178.72 499.6,178.86 500.0,179.02 500.4,179.19 500.8,179.37 501.2,179.54 501.6,179.72 502.0,179.90 502.4,180.06 502.8,180.22 503.2,180.37 503.6,180.50 504.0,180.63 504.4,180.74 504.8,180.83 505.2,180.92 505.6,181.00 506.0,181.06 506.4,181.12 506.8,181.16 507.2,181.20 507.6,181.24 508.0,181.27 508.4,181.29 508.8,181.32 509.2,181.33 509.6,181.35 510.0,181.36 510.4,181.38 510.8,181.39 511.2,181.40 511.6,181.41 512.0,181.42 512.4,181.43 512.8,181.43 513.2,181.44 513.6,181.45 514.0,181.45 514.4,181.46 514.8,181.46 515.2,181.47 515.6,181.47 516.0,181.48 516.4,181.48 516.8,181.49 517.2,181.49 517.6,181.50 518.0,181.50 518.4,181.50 518.8,181.51 519.2,181.51 519.6,181.51 519.8,181.51" fill="none" stroke="#B168DC" stroke-width="2.75" stroke-linejoin="round" stroke-linecap="butt"/>
<polyline points="55.5,134.75 57.5,134.75 59.5,134.75 61.5,134.75 63.5,134.75 65.5,134.75 67.5,134.75 69.5,134.75 71.5,134.75 73.5,134.75 75.5,134.74 77.5,134.74 79.5,134.74 81.5,134.74 83.5,134.74 85.5,134.74 87.5,134.74 89.5,134.74 91.5,134.74 93.5,134.74 95.5,134.74 97.5,134.74 99.5,134.74 101.5,134.74 103.5,134.74 105.5,134.74 107.5,134.74 109.5,134.74 111.5,134.74 113.5,134.74 115.5,134.74 117.5,134.74 119.5,134.74 121.5,134.73 123.5,134.73 125.5,134.73 127.5,134.73 129.5,134.73 131.5,134.73 133.5,134.73 135.5,134.72 137.5,134.72 139.5,134.72 141.5,134.72 143.5,134.71 145.5,134.71 147.5,134.70 149.5,134.70 151.5,134.69 153.5,134.68 155.5,134.67 157.5,134.66 159.5,134.65 161.5,134.63 163.5,134.60 165.5,134.56 167.5,134.51 169.5,134.43 170.0,134.40 170.2,134.39 170.4,134.38 170.6,134.37 170.8,134.36 171.0,134.34 171.2,134.33 171.4,134.31 171.6,134.30 171.8,134.28 172.0,134.26 172.2,134.25 172.4,134.23 172.6,134.21 172.8,134.18 173.0,134.16 173.2,134.13 173.4,134.11 173.6,134.08 173.8,134.05 174.0,134.02 174.2,133.98 174.4,133.95 174.6,133.91 174.8,133.86 175.0,133.82 175.2,133.77 175.4,133.71 175.6,133.65 175.8,133.59 176.0,133.52 176.2,133.45 176.4,133.36 176.6,133.27 176.8,133.18 177.0,133.07 177.2,132.94 177.4,132.81 177.6,132.66 177.8,132.49 178.0,132.31 178.2,132.09 178.4,131.86 178.6,131.58 178.8,131.27 179.0,130.91 179.2,130.50 179.4,130.02 179.6,129.46 179.8,128.80 180.0,128.01 180.2,127.08 180.4,125.96 180.6,124.60 180.8,122.95 181.0,120.94 181.2,118.51 181.4,115.57 181.6,112.12 181.8,108.20 182.0,104.07 182.2,100.23 182.4,97.44 182.6,96.40 182.8,96.87 183.0,98.20 183.2,100.23 183.4,102.73 183.6,105.44 183.8,108.20 184.0,110.85 184.2,113.33 184.4,115.57 184.6,117.59 184.8,119.37 185.0,120.94 185.2,122.32 185.4,123.54 185.6,124.60 185.8,125.53 186.0,126.35 186.2,127.08 186.4,127.72 186.6,128.29 186.8,128.80 187.0,129.25 187.2,129.66 187.4,130.02 187.6,130.35 187.8,130.65 188.0,130.91 188.2,131.16 188.4,131.38 188.6,131.58 188.8,131.77 189.0,131.94 189.2,132.09 189.4,132.24 189.6,132.37 189.8,132.49 190.0,132.61 190.2,132.71 190.4,132.81 190.6,132.90 190.8,132.99 191.0,133.07 191.2,133.14 191.4,133.21 191.6,133.27 191.8,133.34 192.0,133.39 192.2,133.45 192.4,133.50 192.6,133.55 192.8,133.59 193.0,133.63 193.2,133.67 193.4,133.71 193.6,133.75 193.8,133.78 194.0,133.82 194.2,133.85 194.4,133.88 194.6,133.91 194.8,133.93 195.0,133.96 195.2,133.98 195.4,134.01 195.6,134.03 195.8,134.05 196.0,134.07 196.2,134.09 196.4,134.11 196.6,134.13 196.8,134.14 197.0,134.16 197.2,134.18 197.4,134.19 197.6,134.21 197.8,134.22 198.0,134.23 198.2,134.25 198.4,134.26 198.6,134.27 198.8,134.28 199.0,134.29 199.2,134.30 199.4,134.31 199.6,134.32 199.8,134.33 200.0,134.34 202.0,134.42 204.0,134.48 206.0,134.52 208.0,134.56 210.0,134.58 212.0,134.61 214.0,134.62 216.0,134.64 218.0,134.65 220.0,134.66 222.0,134.67 224.0,134.68 226.0,134.68 228.0,134.69 230.0,134.69 232.0,134.70 234.0,134.70 236.0,134.71 238.0,134.71 240.0,134.71 242.0,134.71 244.0,134.72 246.0,134.72 248.0,134.72 250.0,134.72 252.0,134.72 254.0,134.72 256.0,134.73 258.0,134.73 260.0,134.73 262.0,134.73 264.0,134.73 266.0,134.73 268.0,134.73 270.0,134.73 272.0,134.73 274.0,134.73 276.0,134.73 278.0,134.74 280.0,134.74 282.0,134.74 284.0,134.74 286.0,134.74 288.0,134.74 290.0,134.74 292.0,134.74 294.0,134.74 296.0,134.74 298.0,134.74 300.0,134.74 302.0,134.74 304.0,134.74 306.0,134.74 308.0,134.74 310.0,134.74 312.0,134.74 314.0,134.74 316.0,134.74 318.0,134.74 320.0,134.74 322.0,134.74 324.0,134.74 326.0,134.74 328.0,134.74 330.0,134.74 332.0,134.74 334.0,134.74 336.0,134.74 338.0,134.74 340.0,134.74 342.0,134.74 344.0,134.74 346.0,134.74 348.0,134.74 350.0,134.74 352.0,134.74 354.0,134.74 356.0,134.74 358.0,134.74 360.0,134.74 362.0,134.74 364.0,134.74 366.0,134.74 368.0,134.74 370.0,134.74 372.0,134.74 374.0,134.74 376.0,134.74 378.0,134.74 380.0,134.74 382.0,134.74 384.0,134.74 386.0,134.74 388.0,134.74 390.0,134.74 392.0,134.74 394.0,134.74 396.0,134.74 398.0,134.74 400.0,134.74 402.0,134.74 404.0,134.74 406.0,134.74 408.0,134.74 410.0,134.74 412.0,134.74 414.0,134.74 416.0,134.74 418.0,134.74 420.0,134.74 422.0,134.74 424.0,134.74 426.0,134.74 428.0,134.74 430.0,134.74 432.0,134.74 434.0,134.74 436.0,134.74 438.0,134.74 440.0,134.74 442.0,134.74 444.0,134.74 446.0,134.73 448.0,134.73 450.0,134.73 452.0,134.73 454.0,134.73 456.0,134.73 458.0,134.73 460.0,134.72 462.0,134.72 464.0,134.72 466.0,134.72 468.0,134.71 470.0,134.71 470.4,134.71 470.8,134.71 471.2,134.70 471.6,134.70 472.0,134.70 472.4,134.70 472.8,134.70 473.2,134.70 473.6,134.70 474.0,134.70 474.4,134.69 474.8,134.69 475.2,134.69 475.6,134.68 476.0,134.66 476.4,134.62 476.8,134.53 477.2,134.37 477.6,134.14 478.0,133.84 478.4,133.57 478.8,133.40 479.2,133.39 479.6,133.56 480.0,133.83 480.4,134.12 480.8,134.35 481.2,134.50 481.6,134.59 482.0,134.62 482.4,134.64 482.8,134.64 483.2,134.64 483.6,134.63 484.0,134.63 484.4,134.62 484.8,134.62 485.2,134.61 485.6,134.61 486.0,134.60 486.4,134.60 486.8,134.59 487.2,134.58 487.6,134.57 488.0,134.56 488.4,134.55 488.8,134.54 489.2,134.52 489.6,134.49 490.0,134.46 490.4,134.42 490.8,134.36 491.2,134.28 491.6,134.19 492.0,134.06 492.4,133.91 492.8,133.73 493.2,133.51 493.6,133.27 494.0,133.00 494.4,132.73 494.8,132.45 495.2,132.18 495.6,131.94 496.0,131.74 496.4,131.59 496.8,131.51 497.2,131.50 497.6,131.52 498.0,131.56 498.4,131.64 498.8,131.74 499.2,131.87 499.6,132.01 500.0,132.17 500.4,132.34 500.8,132.52 501.2,132.69 501.6,132.87 502.0,133.05 502.4,133.21 502.8,133.37 503.2,133.52 503.6,133.65 504.0,133.78 504.4,133.89 504.8,133.98 505.2,134.07 505.6,134.15 506.0,134.21 506.4,134.27 506.8,134.31 507.2,134.35 507.6,134.39 508.0,134.42 508.4,134.44 508.8,134.47 509.2,134.48 509.6,134.50 510.0,134.51 510.4,134.53 510.8,134.54 511.2,134.55 511.6,134.56 512.0,134.57 512.4,134.58 512.8,134.58 513.2,134.59 513.6,134.60 514.0,134.60 514.4,134.61 514.8,134.61 515.2,134.62 515.6,134.62 516.0,134.63 516.4,134.63 516.8,134.64 517.2,134.64 517.6,134.65 518.0,134.65 518.4,134.65 518.8,134.66 519.2,134.66 519.6,134.66 519.8,134.66" fill="none" stroke="#C8900A" stroke-width="2.75" stroke-linejoin="round" stroke-linecap="butt"/>
<text x="58.6" y="124.2" font-family='"Liberation Sans", Arial, Helvetica, sans-serif' font-size="17.8" font-weight="bold" text-anchor="start" fill="#000" >G6</text>
<text x="60.2" y="170.5" font-family='"Liberation Sans", Arial, Helvetica, sans-serif' font-size="17.8" font-weight="bold" text-anchor="start" fill="#000" >G5</text>
<text x="58.6" y="217.6" font-family='"Liberation Sans", Arial, Helvetica, sans-serif' font-size="17.8" font-weight="bold" text-anchor="start" fill="#000" >G4</text>
<text x="58.6" y="265" font-family='"Liberation Sans", Arial, Helvetica, sans-serif' font-size="17.8" font-weight="bold" text-anchor="start" fill="#000" >G3</text>
<text x="57.8" y="315.1" font-family='"Liberation Sans", Arial, Helvetica, sans-serif' font-size="17.8" font-weight="bold" text-anchor="start" fill="#000" >G2</text>
<text x="57.8" y="361.4" font-family='"Liberation Sans", Arial, Helvetica, sans-serif' font-size="17.8" font-weight="bold" text-anchor="start" fill="#000" >G1</text>
<text x="76.6" y="422.4" font-family='"Liberation Sans", Arial, Helvetica, sans-serif' font-size="17.8" font-weight="bold" text-anchor="start" fill="#000" >TiN PDF#87-0631</text>
<text x="76.6" y="460.0" font-family='"Liberation Sans", Arial, Helvetica, sans-serif' font-size="17.8" font-weight="bold" text-anchor="start" fill="#000" letter-spacing="0.1">Substrate PDF#33-0397</text>
<circle cx="67.9" cy="414.6" r="6.75" fill="#000"/>
<text x="60.9" y="459.0" font-family='"Liberation Sans", Arial, Helvetica, sans-serif' font-size="17.4" font-weight="normal" text-anchor="start" fill="#000" >Δ</text>
<circle cx="183.0" cy="85.7" r="6.6" fill="#000"/>
<circle cx="224.4" cy="122.4" r="6.6" fill="#000"/>
<circle cx="497.6" cy="122.0" r="6.6" fill="#000"/>
<text x="233.7" y="126.1" font-family='"Liberation Sans", Arial, Helvetica, sans-serif' font-size="17.2" font-weight="normal" text-anchor="start" fill="#000" stroke="#000" stroke-width="0.35">Δ</text>
<text x="288.4" y="127.6" font-family='"Liberation Sans", Arial, Helvetica, sans-serif' font-size="17.2" font-weight="normal" text-anchor="start" fill="#000" stroke="#000" stroke-width="0.35">Δ</text>
<text x="472.9" y="126.7" font-family='"Liberation Sans", Arial, Helvetica, sans-serif' font-size="17.2" font-weight="normal" text-anchor="start" fill="#000" stroke="#000" stroke-width="0.35">Δ</text>
<text x="0" y="0" font-family='"Liberation Sans", Arial, Helvetica, sans-serif' font-size="16" font-weight="bold" text-anchor="start" fill="#000" letter-spacing="0.65" transform="translate(188.4,76.8) rotate(-90) scale(1.15,1)">(111)</text>
<text x="0" y="0" font-family='"Liberation Sans", Arial, Helvetica, sans-serif' font-size="16" font-weight="bold" text-anchor="start" fill="#000" letter-spacing="0" transform="translate(229.6,113.0) rotate(-90) scale(1.135,1)">(200)</text>
<text x="0" y="0" font-family='"Liberation Sans", Arial, Helvetica, sans-serif' font-size="16" font-weight="bold" text-anchor="start" fill="#000" letter-spacing="0" transform="translate(501.7,112.6) rotate(-90) scale(1.135,1)">(222)</text>
<text x="55.80" y="508.3" font-family='"Liberation Sans", Arial, Helvetica, sans-serif' font-size="27.3" font-weight="bold" text-anchor="middle" fill="#000" >20</text>
<text x="133.13" y="508.3" font-family='"Liberation Sans", Arial, Helvetica, sans-serif' font-size="27.3" font-weight="bold" text-anchor="middle" fill="#000" >30</text>
<text x="210.47" y="508.3" font-family='"Liberation Sans", Arial, Helvetica, sans-serif' font-size="27.3" font-weight="bold" text-anchor="middle" fill="#000" >40</text>
<text x="287.80" y="508.3" font-family='"Liberation Sans", Arial, Helvetica, sans-serif' font-size="27.3" font-weight="bold" text-anchor="middle" fill="#000" >50</text>
<text x="365.13" y="508.3" font-family='"Liberation Sans", Arial, Helvetica, sans-serif' font-size="27.3" font-weight="bold" text-anchor="middle" fill="#000" >60</text>
<text x="442.47" y="508.3" font-family='"Liberation Sans", Arial, Helvetica, sans-serif' font-size="27.3" font-weight="bold" text-anchor="middle" fill="#000" >70</text>
<text x="519.80" y="508.3" font-family='"Liberation Sans", Arial, Helvetica, sans-serif' font-size="27.3" font-weight="bold" text-anchor="middle" fill="#000" >80</text>
<text x="182.4" y="535.5" font-family='"Liberation Sans", Arial, Helvetica, sans-serif' font-size="27" font-weight="bold" text-anchor="start" fill="#000" >2</text>
<text x="205.8" y="535.5" font-family='"Liberation Sans", Arial, Helvetica, sans-serif' font-size="27" font-weight="bold" text-anchor="start" fill="#000" letter-spacing="-0.3">Theta</text>
<text x="285.8" y="535.5" font-family='"Liberation Sans", Arial, Helvetica, sans-serif' font-size="27" font-weight="bold" text-anchor="start" fill="#000" letter-spacing="0.12">(degree)</text>
<text x="0" y="0" font-family='"Liberation Sans", Arial, Helvetica, sans-serif' font-size="27.55" font-weight="bold" text-anchor="middle" fill="#000" transform="translate(31.6,250.9) rotate(-90)">Intensity (a.u.)</text>
</svg>
</body></html>
